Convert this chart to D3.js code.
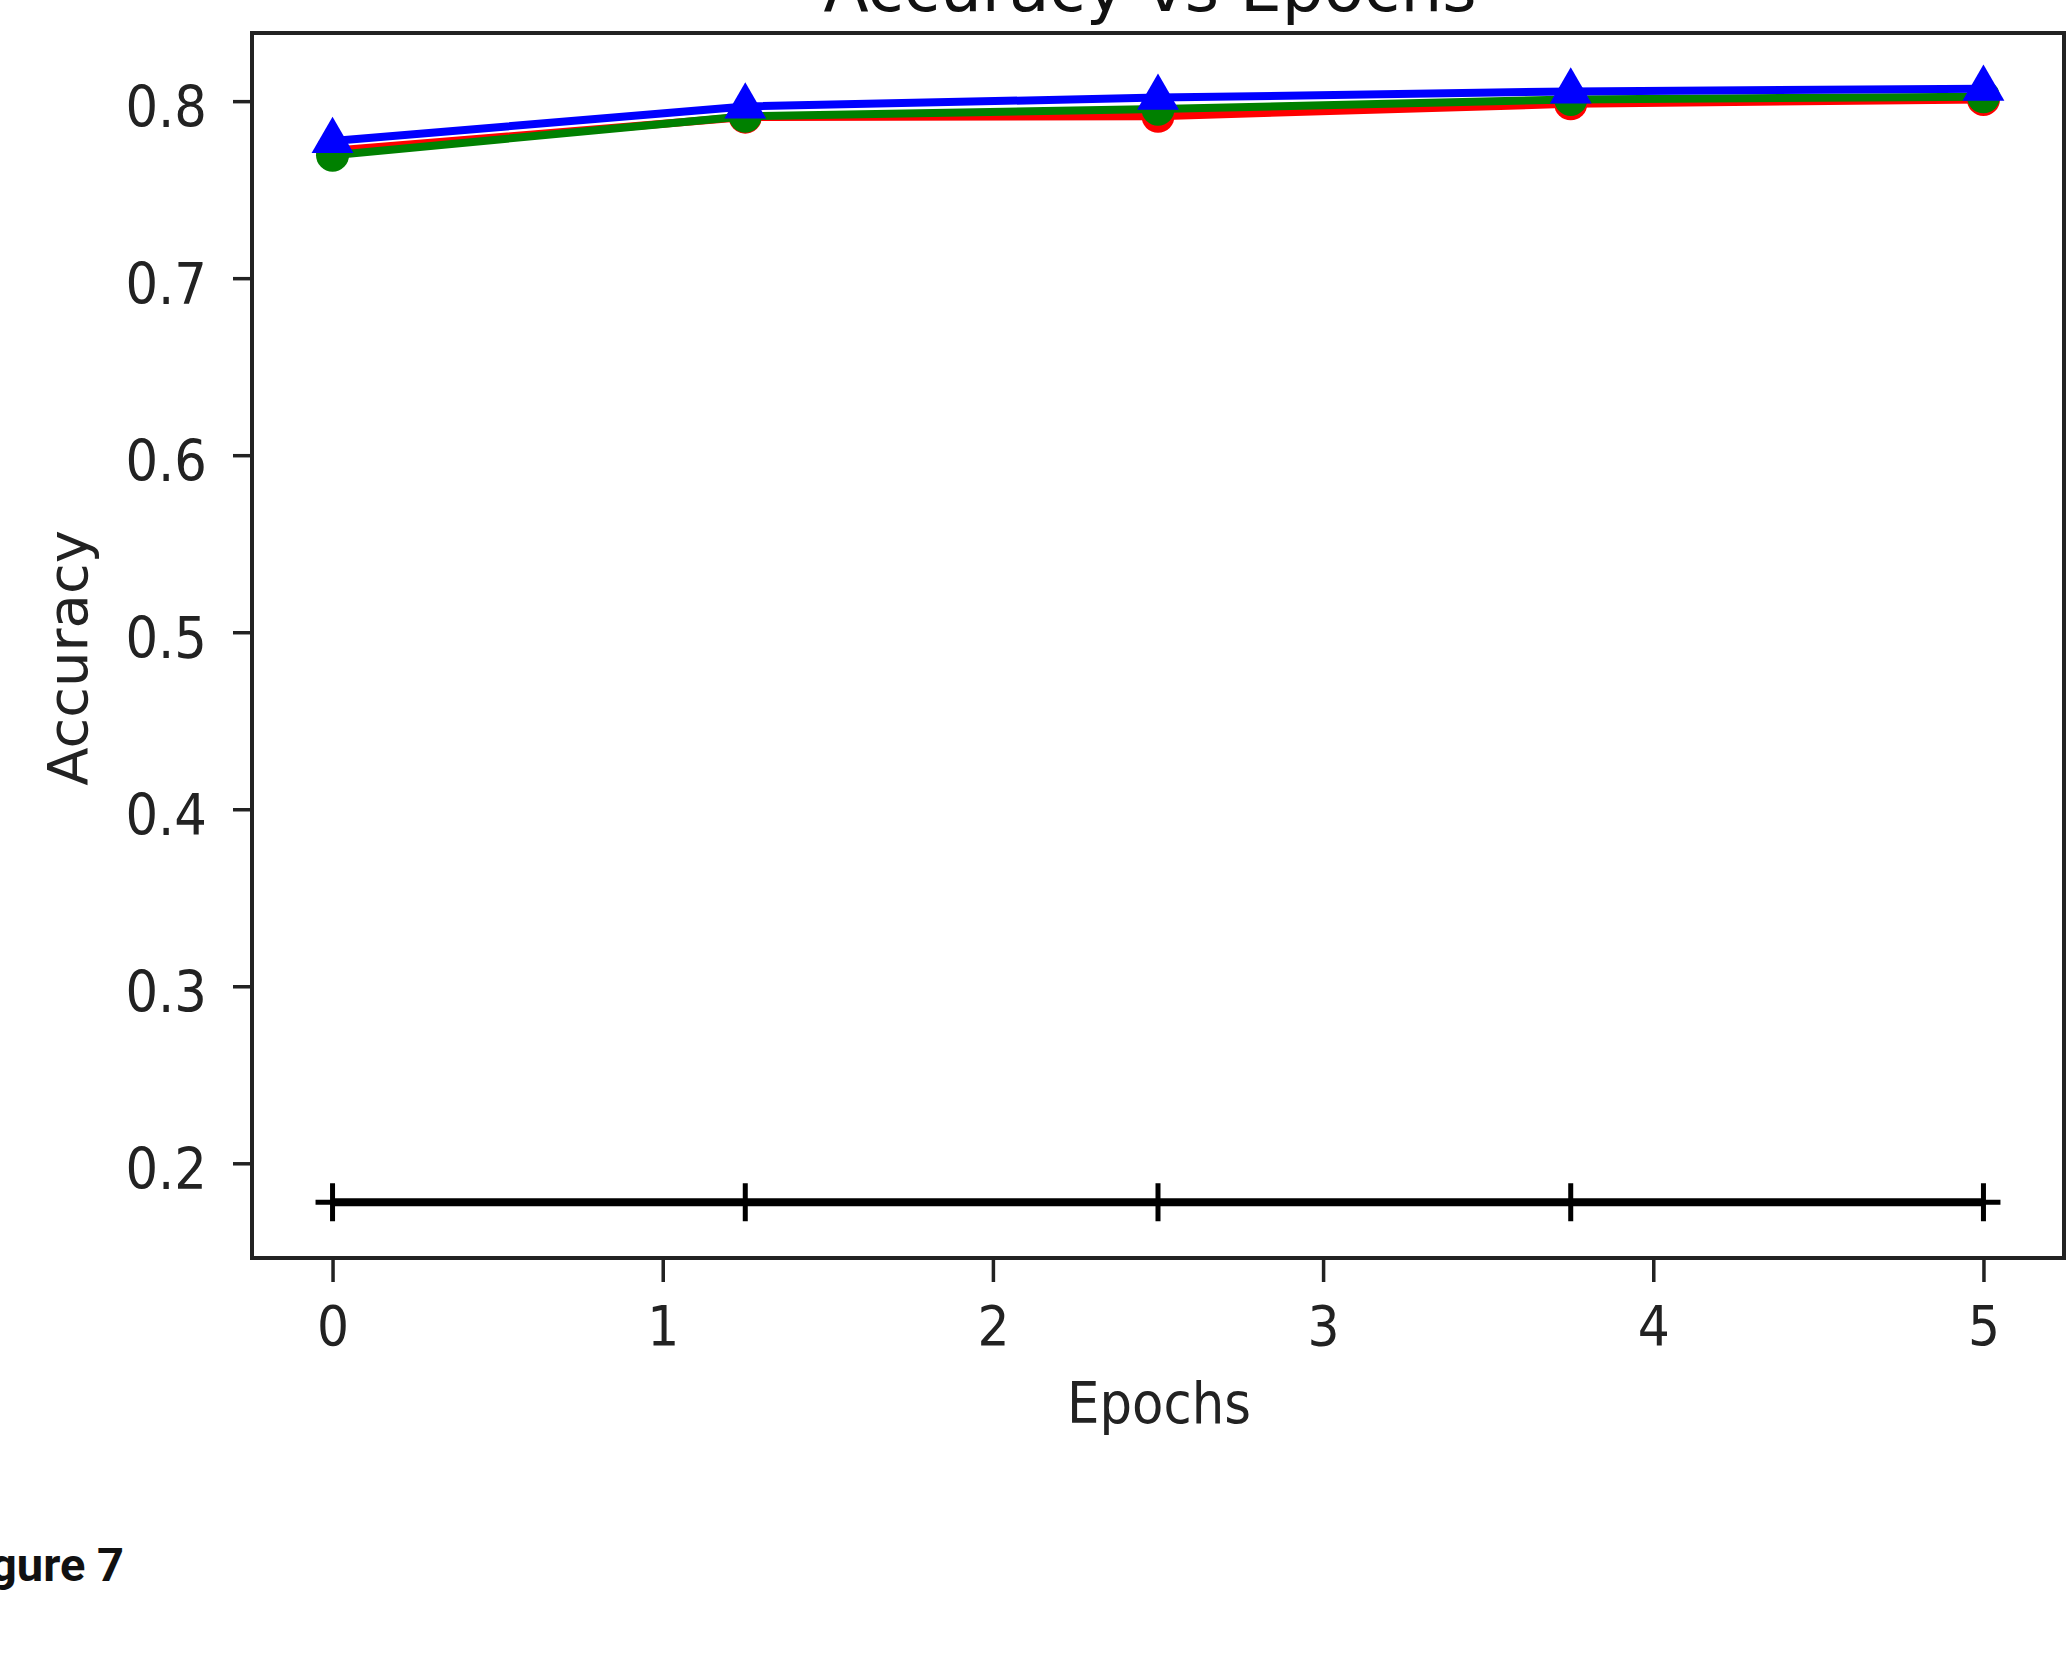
<!DOCTYPE html>
<html>
<head>
<meta charset="utf-8">
<script src="https://cdn.jsdelivr.net/npm/d3@7"></script>
<style>
  html, body { margin: 0; padding: 0; background: #ffffff; }
  svg { display: block; }
</style>
</head>
<body>
<svg id="chart" width="2072" height="1662"></svg>
<script>
// ---- data ----
const epochs   = [0, 1.25, 2.5, 3.75, 5];
const redAcc   = [0.772, 0.791, 0.7915, 0.7985, 0.801];
const greenAcc = [0.7695, 0.7915, 0.7955, 0.801, 0.8025];
const blueAcc  = [0.7775, 0.797, 0.802, 0.8055, 0.807];
const blackAcc = [0.178, 0.178, 0.178, 0.178, 0.178];
const xTickValues = [0, 1, 2, 3, 4, 5];
const yTickValues = [0.2, 0.3, 0.4, 0.5, 0.6, 0.7, 0.8];
const titleText = "Accuracy vs Epochs";
const xLabelText = "Epochs";
const yLabelText = "Accuracy";
const captionText = "Figure 7";

const series = [
  { name: "red",   values: redAcc,   color: "#ff0000", marker: "circle" },
  { name: "green", values: greenAcc, color: "#008000", marker: "circle" },
  { name: "blue",  values: blueAcc,  color: "#0000ff", marker: "triangle" },
  { name: "black", values: blackAcc, color: "#000000", marker: "plus" }
];

// ---- layout ----
const svg = d3.select("#chart");
const plot = { left: 250, right: 2064, top: 33, bottom: 1258 };
const FONT = "'DejaVu Sans', sans-serif";
const SX = 0.9; // horizontal squeeze of the reference text

const x = d3.scaleLinear().domain([-0.25, 5.25]).range([250, 2066]);
const y = d3.scaleLinear().domain([0.1465, 0.8385]).range([plot.bottom, plot.top]);

const frame = svg.append("g");

// axes
const xAxis = d3.axisBottom(x).tickValues(xTickValues).tickFormat(d3.format("d")).tickSize(24).tickPadding(0);
const yAxis = d3.axisLeft(y).tickValues(yTickValues).tickFormat(d3.format(".1f")).tickSize(19).tickPadding(0);

const gx = svg.append("g").attr("transform", `translate(0,${plot.bottom})`).call(xAxis);
gx.select(".domain").remove();
gx.selectAll(".tick line").attr("stroke", "#222").attr("stroke-width", 3.5);
gx.selectAll(".tick text")
  .attr("y", 87).attr("dy", null).attr("x", 0)
  .attr("fill", "#222")
  .style("font-family", FONT).style("font-size", "56px")
  .attr("transform", `scale(${SX},1)`);

const gy = svg.append("g").attr("transform", `translate(${plot.left + 2},0)`).call(yAxis);
gy.select(".domain").remove();
gy.selectAll(".tick line").attr("stroke", "#222").attr("stroke-width", 3.5);
gy.selectAll(".tick text")
  .attr("x", -45 / SX).attr("dy", "0.45em").attr("y", 0)
  .attr("fill", "#222")
  .style("font-family", FONT).style("font-size", "57px")
  .attr("transform", `scale(${SX},1)`);

// series
const line = d3.line().x((d, i) => x(epochs[i])).y(d => y(d));
const gData = svg.append("g");

series.forEach(s => {
  gData.append("path")
    .datum(s.values)
    .attr("d", line)
    .attr("fill", "none")
    .attr("stroke", s.color)
    .attr("stroke-width", 8)
    .attr("stroke-linejoin", "round");

  const pts = gData.append("g").selectAll("path.m")
    .data(s.values)
    .join("path")
    .attr("class", "m")
    .attr("transform", (d, i) => `translate(${x(epochs[i])},${y(d)})`);

  if (s.marker === "circle") {
    pts.attr("d", d3.symbol(d3.symbolCircle, 860)()).attr("fill", s.color);
  } else if (s.marker === "triangle") {
    pts.attr("d", d3.symbol(d3.symbolTriangle, 760)()).attr("fill", s.color);
  } else {
    pts.attr("d", "M-17,0H17M0,-19V19").attr("fill", "none")
      .attr("stroke", s.color).attr("stroke-width", 5);
  }
});

// spines (drawn over data)
frame.raise();
frame.append("rect")
  .attr("x", plot.left + 2).attr("y", plot.top)
  .attr("width", plot.right - plot.left - 2).attr("height", plot.bottom - plot.top)
  .attr("fill", "none").attr("stroke", "#222").attr("stroke-width", 4);

// labels
svg.append("text")
  .attr("x", 1150).attr("y", 11)
  .attr("text-anchor", "middle")
  .style("font-family", FONT).style("font-size", "66px").attr("fill", "#111")
  .text(titleText);

svg.append("text")
  .attr("transform", `translate(1159,1423) scale(${SX},1)`)
  .attr("text-anchor", "middle")
  .style("font-family", FONT).style("font-size", "57px").attr("fill", "#222")
  .text(xLabelText);

svg.append("text")
  .attr("transform", "translate(87,658) rotate(-90)")
  .attr("text-anchor", "middle")
  .style("font-family", FONT).style("font-size", "56px").attr("fill", "#222")
  .text(yLabelText);

svg.append("text")
  .attr("transform", "translate(124,1581)")
  .attr("text-anchor", "end")
  .style("font-family", "Roboto, sans-serif").style("font-weight", 700)
  .style("font-size", "47px").attr("fill", "#111")
  .text(captionText);
</script>
</body>
</html>
